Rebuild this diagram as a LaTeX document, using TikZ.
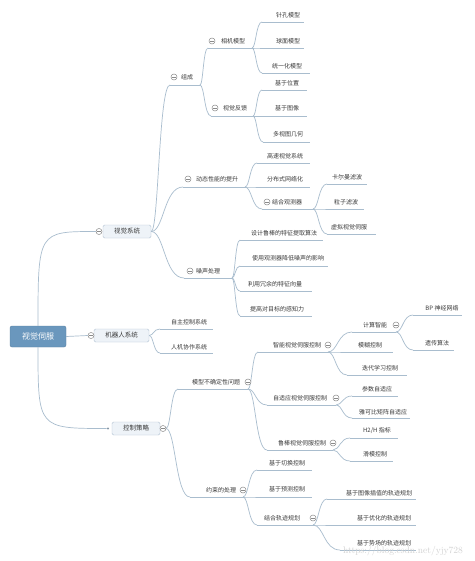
\documentclass[tikz,border=0pt]{standalone}
\usepackage{fontspec}
\newfontfamily\cjk{Noto Sans CJK SC}
\usetikzlibrary{calc}
\definecolor{lnc}{HTML}{A9BDCE}
\definecolor{txc}{HTML}{3A3A3A}
\definecolor{rootc}{HTML}{6A97BD}
\definecolor{boxf}{HTML}{EEF3F8}
\definecolor{boxd}{HTML}{B3C3D3}
\definecolor{circd}{HTML}{8A8A8A}
\tikzset{
  ln/.style={draw=lnc, line width=0.7pt},
  txt/.style={font=\cjk\fontsize{6}{7}\selectfont, text=txc, inner sep=0pt},
  rootbox/.style={draw=rootc!85!black, fill=rootc, rounded corners=2pt, minimum width=56pt, minimum height=21pt, inner sep=0pt, text=white, font=\cjk\fontsize{8}{9}\selectfont},
  lonebox/.style={draw=boxd, fill=boxf, rounded corners=1.5pt, minimum height=13pt, inner sep=0pt, text=txc, font=\cjk\fontsize{6.5}{7.5}\selectfont},
  colc/.style={circle, draw=circd, fill=white, line width=0.5pt, minimum size=6pt, inner sep=0pt,
    path picture={\draw[circd, line width=0.5pt] ([xshift=-1.7pt]path picture bounding box.center) -- ([xshift=1.7pt]path picture bounding box.center);}},
  dotc/.style={circle, fill=lnc!80!black, minimum size=2.2pt, inner sep=0pt},
  wmark/.style={font=\fontsize{9.5}{10}\selectfont, text=gray!35, inner sep=0pt}
}
% name, tx, ty, text, xs, xe, uy
\newcommand\mnd[7]{%
  \node[txt] (#1) at (#2,#3) {#4};
  \coordinate (#1-s) at (#5,#7);
  \coordinate (#1-e) at (#6,#7);
  \draw[ln] (#1-s) -- (#1-e);}
\newcommand\mcn[2]{%
  \draw[ln] let \p1=(#1-e), \p2=(#2-s) in (#1-e) .. controls ({\x1+0.4*(\x2-\x1)},\y1) and ({\x1+0.4*(\x2-\x1)},\y2) .. (#2-s);}
\newcommand\mcc[3]{\node[colc] (#1) at (#2,#3) {};}
\begin{document}
\begin{tikzpicture}[x=1pt,y=-1pt]
\fill[white] (0,0) rectangle (474,561);
\useasboundingbox (0,0) rectangle (474,561);

% ---------- level 0 / 1 boxes
\node[rootbox] (root) at (38,336.5) {视觉伺服};
\node[lonebox, minimum width=48pt] (vs) at (127,231.5) {视觉系统};
\node[lonebox, minimum width=55pt] (jq) at (121.5,335.5) {机器人系统};
\node[lonebox, minimum width=48pt] (kz) at (136,428.5) {控制策略};
\coordinate (vs-e) at (vs.east);
\coordinate (jq-e) at (jq.east);
\coordinate (kz-e) at (166,428.5);

% ---------- 视觉系统 branch
\mnd{zc}{187}{77}{组成}{170}{200}{85}
\mnd{dt}{217}{179}{动态性能的提升}{183}{245}{187}
\mnd{zs}{208}{271}{噪声处理}{184}{232}{278}

\mnd{xj}{233}{41}{相机模型}{208}{252}{48}
\mnd{sj}{235}{108}{视觉反馈}{211}{253}{116}

\mnd{a1}{288}{15}{针孔模型}{262}{304}{22}
\mnd{a2}{288}{41}{球面模型}{262}{304}{48}
\mnd{a3}{287}{66}{统一化模型}{262}{310}{73}
\mnd{b1}{287}{83}{基于位置}{262}{307}{90}
\mnd{b2}{287}{108}{基于图像}{262}{307}{116}
\mnd{b3}{288}{134}{多视图几何}{263}{310}{142}

\mnd{c1}{285}{156}{高速视觉系统}{257}{310}{163}
\mnd{c2}{285}{179}{分布式网络化}{257}{310}{187}
\mnd{c3}{287}{202}{结合观测器}{262}{313}{209}
\mnd{d1}{347}{177}{卡尔曼滤波}{327}{367}{184}
\mnd{d2}{346}{202}{粒子滤波}{327}{364}{209}
\mnd{d3}{349}{227}{虚拟视觉伺服}{327}{376}{234}

\mnd{e1}{284}{233}{设计鲁棒的特征提取算法}{240}{323}{240}
\mnd{e2}{288}{258}{使用观测器降低噪声的影响}{240}{328}{266}
\mnd{e3}{275}{284}{利用冗余的特征向量}{240}{312}{291}
\mnd{e4}{277}{309}{提高对目标的感知力}{240}{312}{316}

% ---------- 机器人系统 branch
\mnd{f1}{189}{322}{自主控制系统}{160}{213}{329}
\mnd{f2}{189}{347}{人机协作系统}{160}{213}{353}

% ---------- 控制策略 branch
\mnd{mx}{216}{382}{模型不确定性问题}{178}{248}{389}
\mnd{ys}{221}{490}{约束的处理}{190}{243}{497}

\mnd{zn}{297}{345}{智能视觉伺服控制}{258}{328}{352}
\mnd{zy}{300}{398}{自适应视觉伺服控制}{267}{336}{405}
\mnd{lb}{302}{443}{鲁棒视觉伺服控制}{267}{333}{450}

\mnd{js}{375}{325}{计算智能}{352}{396}{332}
\mnd{mh}{370}{345}{模糊控制}{342}{393}{352}
\mnd{dd}{380}{368}{迭代学习控制}{347}{407}{375}
\mnd{bp}{442}{308}{BP 神经网络}{413}{462}{315}
\mnd{yc}{437}{343}{遗传算法}{413}{454}{350}

\mnd{cs}{377}{389}{参数自适应}{352}{398}{396}
\mnd{yk}{383}{412}{雅可比矩阵自适应}{352}{410}{418}

\mnd{hh}{377}{431}{H2/H 指标}{350}{398}{438}
\mnd{hm}{375}{454}{滑模控制}{350}{393}{461}

\mnd{qh}{287}{463}{基于切换控制}{257}{312}{470}
\mnd{yc2}{287}{489}{基于预测控制}{257}{312}{497}
\mnd{jh}{282}{518}{结合轨迹规划}{257}{313}{525}

\mnd{g1}{379}{493}{基于图像插值的轨迹规划}{327}{416}{499}
\mnd{g2}{384}{518}{基于优化的轨迹规划}{327}{416}{525}
\mnd{g3}{384}{543}{基于势场的轨迹规划}{340}{416}{550}

% ---------- connectors
\mcn{vs}{zc}\mcn{vs}{dt}\mcn{vs}{zs}
\mcn{zc}{xj}\mcn{zc}{sj}
\mcn{xj}{a1}\mcn{xj}{a2}\mcn{xj}{a3}
\mcn{sj}{b1}\mcn{sj}{b2}\mcn{sj}{b3}
\mcn{dt}{c1}\mcn{dt}{c2}\mcn{dt}{c3}
\mcn{c3}{d1}\mcn{c3}{d2}\mcn{c3}{d3}
\mcn{zs}{e1}\mcn{zs}{e2}\mcn{zs}{e3}\mcn{zs}{e4}
\mcn{jq}{f1}\mcn{jq}{f2}
\mcn{kz}{mx}\mcn{kz}{ys}
\mcn{mx}{zn}\mcn{mx}{zy}\mcn{mx}{lb}
\mcn{zn}{js}\mcn{zn}{mh}\mcn{zn}{dd}
\mcn{js}{bp}\mcn{js}{yc}
\mcn{zy}{cs}\mcn{zy}{yk}
\mcn{lb}{hh}\mcn{lb}{hm}
\mcn{ys}{qh}\mcn{ys}{yc2}\mcn{ys}{jh}
\mcn{jh}{g1}\mcn{jh}{g2}\mcn{jh}{g3}

% ---------- collapse circles
\mcc{vs-c}{99}{231.5}
\mcc{jq-c}{91}{335.5}
\mcc{kz-c}{163}{428.5}
\node[dotc] (kz-d) at (108,428.5) {};
\mcc{zc-c}{174}{77}
\mcc{xj-c}{212}{41}
\mcc{sj-c}{215}{108}
\mcc{dt-c}{188}{179}
\mcc{zs-c}{190}{271}
\mcc{c3-c}{267}{202}
\mcc{mx-c}{248}{382}
\mcc{ys-c}{243}{490}
\mcc{zn-c}{328}{345}
\mcc{zy-c}{336}{398}
\mcc{lb-c}{333}{443}
\mcc{js-c}{396}{325}
\mcc{jh-c}{313}{518}

% ---------- root connectors
\draw[ln] (root.north) .. controls (root.north |- vs-c) .. (vs-c.west);
\draw[ln] (root.east) -- (jq-c.west);
\draw[ln] (root.south) .. controls (root.south |- kz-d) .. (kz-d);

% ---------- watermark
\node[wmark] (wm) at (403,551) {https://blog.csdn.net/yjy728};
\end{tikzpicture}
\end{document}
